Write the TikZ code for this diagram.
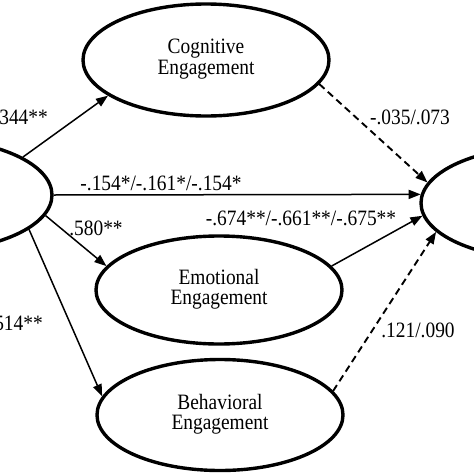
\documentclass[tikz,border=0pt]{standalone}
\usepackage{graphicx}
\usepackage{fontspec}
\setmainfont{Liberation Serif}
\usetikzlibrary{shapes.geometric,arrows.meta}
\newcommand{\vst}[1]{\scalebox{1}[1.13]{#1}}
\newcommand{\twoline}[2]{\vst{\begin{tabular}{@{}c@{}}#1\\#2\end{tabular}}}
\begin{document}
\begin{tikzpicture}[x=1pt,y=-1pt,
  lat/.style={draw,ellipse,line width=3.4pt,minimum width=246pt,minimum height=112pt,inner sep=0pt,font=\fontsize{19.4}{18.4}\selectfont},
  lbl/.style={inner sep=0pt,font=\fontsize{19.4}{23}\selectfont},
  solidarr/.style={line width=1.5pt,-{Triangle[length=12pt,width=9pt]}},
  dasharr/.style={line width=1.9pt,dash pattern=on 7pt off 4.5pt,-{Triangle[length=12pt,width=9pt]}}]
\useasboundingbox (0,0) rectangle (474,474);
\node[lat] (L) at (-71,195) {};
\node[lat] (R) at (544,203) {};
\node[lat] (Cog) at (206,60) {\twoline{Cognitive}{Engagement}};
\node[lat,minimum height=108pt] (Emo) at (219,290) {\twoline{Emotional}{Engagement}};
\node[lat,minimum height=111pt] (Beh) at (220,415) {\twoline{Behavioral}{Engagement}};
\draw[solidarr] (L.22) -- (Cog.-160);
\draw[solidarr] (L.east) -- (R.176.5);
\draw[solidarr] (L.-10) -- (Emo.168);
\draw[solidarr] (L.-19) -- (Beh.171);
\draw[solidarr] (Emo.12) -- (R.186);
\draw[dasharr] (Cog.-12) -- (R.170);
\draw[dasharr] (Beh.12) -- (R.195);
\node[lbl,anchor=base east] (l1) at (48,124) {\vst{.344**}};
\node[lbl,anchor=base] (l2) at (161,190) {\vst{-.154*/-.161*/-.154*}};
\node[lbl,anchor=base] (l3) at (96,235) {\vst{.580**}};
\node[lbl,anchor=base east] (l4) at (43,330) {\vst{.514**}};
\node[lbl,anchor=base] (l5) at (301,225) {\vst{-.674**/-.661**/-.675**}};
\node[lbl,anchor=base] (l6) at (410,124) {\vst{-.035/.073}};
\node[lbl,anchor=base] (l7) at (418,337) {\vst{.121/.090}};
\end{tikzpicture}
\end{document}
